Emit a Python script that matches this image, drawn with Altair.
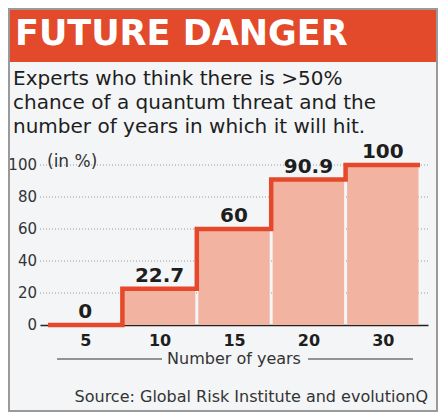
import json
import altair as alt
import pandas as pd

# ---- data ----
years = ["5", "10", "15", "20", "30"]
shares = [0, 22.7, 60, 90.9, 100]
y_ticks = [0, 20, 40, 60, 80, 100]
title_text = "FUTURE DANGER"
subtitle_lines = [
    "Experts who think there is >50%",
    "chance of a quantum threat and the",
    "number of years in which it will hit.",
]
unit_text = "(in %)"
x_title = "Number of years"
source_text = "Source: Global Risk Institute and evolutionQ"

# ---- style ----
RED = "#e24a2b"
LINE = "#e5482a"
FILL = "#f2b4a1"
BG = "#f4f5f7"
FONT = "DejaVu Sans"
DARK = "#1e1e1e"
TXT = "#333333"

n = len(years)
bars = pd.DataFrame({"i": list(range(n)), "year": years, "share": shares})
bars["x0"] = bars["i"] + 0.02
bars["x1"] = bars["i"] + 0.98
bars["xc"] = bars["i"] + 0.5
bars["label"] = [f"{v:g}" for v in shares]

steps = pd.DataFrame({"xs": list(range(n)) + [n], "share": shares + [shares[-1]]})
ticks = pd.DataFrame({"v": y_ticks})
grid_ticks = pd.DataFrame({"v": [v for v in y_ticks if v > 0]})

xscale = alt.Scale(domain=[-0.1075, n + 0.1075], nice=False, zero=False)
yscale = alt.Scale(domain=[0, 100], nice=False)

label_expr = f"{json.dumps(years)}[round(datum.value - 0.5)]"

x_axis = alt.Axis(
    values=[i + 0.5 for i in range(n)], labelExpr=label_expr, title=None,
    ticks=False, grid=False, domainColor="#222", domainWidth=1.5,
    labelFont=FONT, labelFontSize=16, labelFontWeight="bold", labelColor=DARK,
    labelPadding=20, labelBaseline="alphabetic", labelOverlap=False,
)

grid_layer = alt.Chart(grid_ticks).mark_rule(
    color="#9a9a9a", strokeWidth=1, strokeDash=[1, 2]
).encode(
    y=alt.Y("v:Q", scale=yscale, axis=None),
    x=alt.value(0), x2=alt.value(388),
)

ylabel_layer = alt.Chart(ticks).mark_text(
    font=FONT, fontSize=15, color=TXT, align="right", baseline="middle"
).encode(
    y=alt.Y("v:Q", scale=yscale, axis=None),
    x=alt.value(-3),
    text="v:Q",
)

bar_layer = alt.Chart(bars).mark_rect(color=FILL).encode(
    x=alt.X("x0:Q", scale=xscale, axis=x_axis, title=None),
    x2="x1:Q",
    y=alt.Y("share:Q", scale=yscale, axis=None),
    y2=alt.datum(0),
)

line_layer = alt.Chart(steps).mark_line(
    interpolate="step-after", color=LINE, strokeWidth=4.5,
    strokeCap="butt", strokeJoin="miter",
).encode(
    x=alt.X("xs:Q", scale=xscale, title=None),
    y=alt.Y("share:Q", scale=yscale, axis=None),
)

value_labels = alt.Chart(bars).mark_text(
    font=FONT, fontSize=20, fontWeight="bold", color=DARK,
    baseline="alphabetic", align="center", dy=-7,
).encode(
    x=alt.X("xc:Q", scale=xscale, title=None),
    y=alt.Y("share:Q", scale=yscale, axis=None),
    text="label:N",
)


def single(text):
    return alt.Chart(pd.DataFrame({"t": [text]}))


header = single(title_text).mark_rect(color=RED).encode(
    x=alt.value(-32), x2=alt.value(398), y=alt.value(-157), y2=alt.value(-103)
)
title = single(title_text).mark_text(
    font=FONT, fontSize=35, fontWeight="bold", color="white",
    align="left", baseline="alphabetic",
).encode(x=alt.value(-25), y=alt.value(-120), text="t:N")

subtitle = single("\n".join(subtitle_lines)).mark_text(
    font=FONT, fontSize=20, color=DARK, align="left", baseline="alphabetic",
    lineBreak="\n", lineHeight=24,
).encode(x=alt.value(-27), y=alt.value(-80), text="t:N")

unit = single(unit_text).mark_text(
    font=FONT, fontSize=17, color=TXT, align="left", baseline="middle",
).encode(x=alt.value(7), y=alt.value(-3), text="t:N")

xtitle = single(x_title).mark_text(
    font=FONT, fontSize=16, color=TXT, align="center", baseline="alphabetic",
).encode(x=alt.value(194), y=alt.value(199), text="t:N")

rule_left = single(x_title).mark_rule(color=TXT, strokeWidth=1.2).encode(
    x=alt.value(17), x2=alt.value(122), y=alt.value(194)
)
rule_right = single(x_title).mark_rule(color=TXT, strokeWidth=1.2).encode(
    x=alt.value(268), x2=alt.value(373), y=alt.value(194)
)

source = single(source_text).mark_text(
    font=FONT, fontSize=16, color=TXT, align="right", baseline="alphabetic",
).encode(x=alt.value(388), y=alt.value(237), text="t:N")

border = single(title_text).mark_rect(
    fillOpacity=0, stroke="#9a9a9a", strokeWidth=2
).encode(x=alt.value(-31), x2=alt.value(397), y=alt.value(-156), y2=alt.value(246))

chart = alt.layer(
    grid_layer, bar_layer, line_layer, value_labels, ylabel_layer,
    header, title, subtitle, unit, xtitle, rule_left, rule_right, source, border,
).properties(
    width=388, height=160,
    padding={"left": 32, "top": 157, "right": 10, "bottom": 87},
    autosize=alt.AutoSizeParams(type="none"),
    background=BG,
).configure_view(stroke=None)

chart.save("out.html", embed_options={"renderer": "svg", "actions": False})
